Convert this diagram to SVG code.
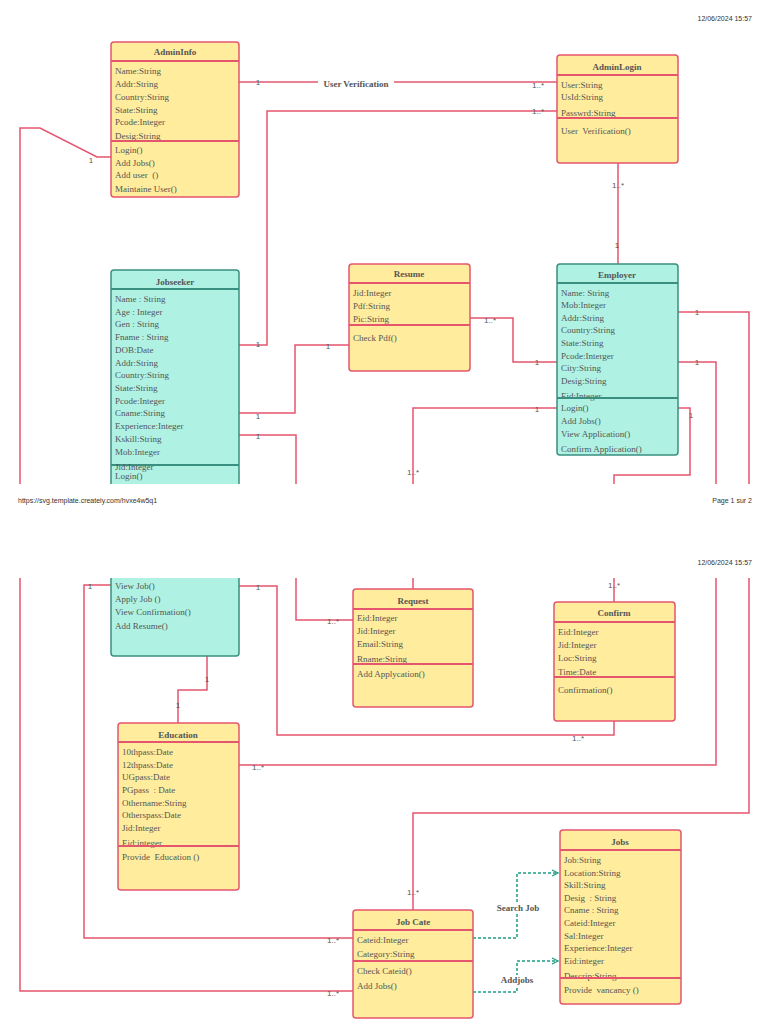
<svg xmlns="http://www.w3.org/2000/svg" width="768" height="1024" viewBox="0 0 768 1024">
<style>
.y{fill:#ffec9c;stroke:#e5566e;stroke-width:1.5}
.g{fill:#aff2e3;stroke:#3a8f80;stroke-width:1.5}
.ly{stroke:#e5566e;stroke-width:2;fill:none}
.lg{stroke:#3a8f80;stroke-width:2;fill:none}
.t{font-family:"Liberation Serif",serif;font-size:9px;fill:#555;white-space:pre}
.h{font-family:"Liberation Serif",serif;font-size:9px;font-weight:bold;fill:#555;text-anchor:middle}
.c{stroke:#e5566e;stroke-width:1.5;fill:none}
.d{stroke:#1b9e84;stroke-width:1.5;fill:none;stroke-dasharray:3,2}
.m{font-family:"Liberation Sans",sans-serif;font-size:8px;fill:#555;text-anchor:middle}
.lb{font-family:"Liberation Serif",serif;font-size:9px;font-weight:bold;fill:#555;text-anchor:middle}
.p{font-family:"Liberation Sans",sans-serif;font-size:7px;fill:#333}
</style>
<defs>
<marker id="ar" markerWidth="8" markerHeight="8" refX="7" refY="4" orient="auto" markerUnits="userSpaceOnUse">
<path d="M1,1 L7,4 L1,7" fill="none" stroke="#1b9e84" stroke-width="1.2"/>
</marker>
</defs>
<rect width="768" height="1024" fill="#fff"/>
<g id="page">
<text class="p" x="752" y="21" text-anchor="end">12/06/2024 15:57</text>
<text class="p" x="18" y="503">https://svg.template.creately.com/hvxe4w5q1</text>
<text class="p" x="752" y="503" text-anchor="end">Page 1 sur 2</text>
<text class="p" x="752" y="565" text-anchor="end">12/06/2024 15:57</text>
</g>
<g id="connectors">
<path class="c" d="M239,82 H557"/>
<rect x="318" y="77" width="76" height="12" fill="#fff"/>
<text class="lb" x="356" y="87">User Verification</text>
<text class="m" x="258" y="85">1</text>
<text class="m" x="538" y="88">1..*</text>
<path class="c" d="M239,345 H267 V111 H557"/>
<text class="m" x="258" y="347">1</text>
<text class="m" x="538" y="114">1..*</text>
<path class="c" d="M618,163 V264"/>
<text class="m" x="618" y="188">1..*</text>
<text class="m" x="617" y="248">1</text>
<path class="c" d="M111,157 H97 L40,128 H20 V484"/>
<text class="m" x="91" y="163">1</text>
<path class="c" d="M20,578 V991 H353"/>
<text class="m" x="333" y="996">1..*</text>
<path class="c" d="M111,585 H84 V938 H353"/>
<text class="m" x="90" y="589">1</text>
<text class="m" x="333" y="943">1..*</text>
<path class="c" d="M239,413 H295 V345 H349"/>
<text class="m" x="258" y="419">1</text>
<text class="m" x="328" y="349">1</text>
<path class="c" d="M470,318 H513 V362 H557"/>
<text class="m" x="490" y="323">1..*</text>
<text class="m" x="537" y="365">1</text>
<path class="c" d="M239,435 H296 V484"/>
<text class="m" x="258" y="439">1</text>
<path class="c" d="M296,578 V620 H353"/>
<text class="m" x="333" y="624">1..*</text>
<path class="c" d="M557,408 H413 V484"/>
<text class="m" x="537" y="412">1</text>
<text class="m" x="413" y="475">1..*</text>
<path class="c" d="M413,578 V589"/>
<path class="c" d="M678,312 H749 V484"/>
<text class="m" x="697" y="315">1</text>
<path class="c" d="M749,578 V813 H413 V910"/>
<text class="m" x="413" y="895">1..*</text>
<path class="c" d="M678,362 H716 V484"/>
<text class="m" x="697" y="365">1</text>
<path class="c" d="M716,578 V765 H239"/>
<text class="m" x="258" y="770">1..*</text>
<path class="c" d="M678,408 H690 V475 H614 V484"/>
<text class="m" x="691" y="418">1</text>
<path class="c" d="M614,578 V602"/>
<text class="m" x="614" y="588">1..*</text>
<path class="c" d="M239,586 H277 V735 H614 V721"/>
<text class="m" x="258" y="590">1</text>
<text class="m" x="578" y="741">1..*</text>
<path class="c" d="M207,656 V690 H178 V723"/>
<text class="m" x="207" y="682">1</text>
<text class="m" x="178" y="708">1</text>
<path class="d" d="M473,938 H517 V873 H558" marker-end="url(#ar)"/>
<rect x="494" y="903" width="46" height="11" fill="#fff"/>
<text class="lb" x="518" y="911">Search Job</text>
<path class="d" d="M473,992 H517 V961 H558" marker-end="url(#ar)"/>
<rect x="498" y="975" width="38" height="11" fill="#fff"/>
<text class="lb" x="517" y="983">Addjobs</text>
</g>
<g id="AdminInfo">
<rect class="y" x="111" y="42" width="128" height="155" rx="3"/>
<text class="h" x="175" y="55">AdminInfo</text>
<line class="ly" x1="111" y1="61" x2="239" y2="61"/>
<text class="t" x="115" y="74">Name:String</text>
<text class="t" x="115" y="87">Addr:String</text>
<text class="t" x="115" y="100">Country:String</text>
<text class="t" x="115" y="113">State:String</text>
<text class="t" x="115" y="125">Pcode:Integer</text>
<text class="t" x="115" y="139">Desig:String</text>
<line class="ly" x1="111" y1="141" x2="239" y2="141"/>
<text class="t" x="115" y="153">Login()</text>
<text class="t" x="115" y="166">Add Jobs()</text>
<text class="t" x="115" y="178">Add user  ()</text>
<text class="t" x="115" y="192">Maintaine User()</text>
</g>
<g id="AdminLogin">
<rect class="y" x="557" y="55" width="121" height="108" rx="3"/>
<text class="h" x="617" y="70">AdminLogin</text>
<line class="ly" x1="557" y1="75" x2="678" y2="75"/>
<text class="t" x="561" y="88">User:String</text>
<text class="t" x="561" y="100">UsId:String</text>
<text class="t" x="561" y="116">Passwrd:String</text>
<line class="ly" x1="557" y1="118" x2="678" y2="118"/>
<text class="t" x="561" y="134">User  Verification()</text>
</g>
<g id="Jobseeker">
<path class="g" d="M111,484 V273 Q111,270 114,270 H236 Q239,270 239,273 V484"/>
<text class="h" x="175" y="285">Jobseeker</text>
<line class="lg" x1="111" y1="289" x2="239" y2="289"/>
<text class="t" x="115" y="302">Name : String</text>
<text class="t" x="115" y="315">Age : Integer</text>
<text class="t" x="115" y="327">Gen : String</text>
<text class="t" x="115" y="340">Fname : String</text>
<text class="t" x="115" y="353">DOB:Date</text>
<text class="t" x="115" y="366">Addr:String</text>
<text class="t" x="115" y="378">Country:String</text>
<text class="t" x="115" y="391">State:String</text>
<text class="t" x="115" y="404">Pcode:Integer</text>
<text class="t" x="115" y="416">Cname:String</text>
<text class="t" x="115" y="429">Experience:Integer</text>
<text class="t" x="115" y="442">Kskill:String</text>
<text class="t" x="115" y="455">Mob:Integer</text>
<line class="lg" x1="111" y1="465" x2="239" y2="465"/>
<text class="t" x="115" y="470">Jid:Integer</text>
<text class="t" x="115" y="479">Login()</text>
<path class="g" d="M111,578 V653 Q111,656 114,656 H236 Q239,656 239,653 V578"/>
<text class="t" x="115" y="589">View Job()</text>
<text class="t" x="115" y="602">Apply Job ()</text>
<text class="t" x="115" y="615">View Confirmation()</text>
<text class="t" x="115" y="629">Add Resume()</text>
</g>
<g id="Resume">
<rect class="y" x="349" y="264" width="121" height="107" rx="3"/>
<text class="h" x="409" y="277">Resume</text>
<line class="ly" x1="349" y1="283" x2="470" y2="283"/>
<text class="t" x="353" y="296">Jid:Integer</text>
<text class="t" x="353" y="309">Pdf:String</text>
<text class="t" x="353" y="322">Pic:String</text>
<line class="ly" x1="349" y1="325" x2="470" y2="325"/>
<text class="t" x="353" y="341">Check Pdf()</text>
</g>
<g id="Employer">
<rect class="g" x="557" y="264" width="121" height="191" rx="3"/>
<text class="h" x="617" y="278">Employer</text>
<line class="lg" x1="557" y1="283" x2="678" y2="283"/>
<text class="t" x="561" y="296">Name: String</text>
<text class="t" x="561" y="308">Mob:Integer</text>
<text class="t" x="561" y="321">Addr:String</text>
<text class="t" x="561" y="333">Country:String</text>
<text class="t" x="561" y="346">State:String</text>
<text class="t" x="561" y="359">Pcode:Interger</text>
<text class="t" x="561" y="371">City:String</text>
<text class="t" x="561" y="384">Desig:String</text>
<text class="t" x="561" y="399">Eid:Integer</text>
<line class="lg" x1="557" y1="398" x2="678" y2="398"/>
<text class="t" x="561" y="411">Login()</text>
<text class="t" x="561" y="424">Add Jobs()</text>
<text class="t" x="561" y="437">View Application()</text>
<text class="t" x="561" y="452">Confirm Application()</text>
</g>
<g id="Request">
<rect class="y" x="353" y="589" width="120" height="118" rx="3"/>
<text class="h" x="413" y="604">Request</text>
<line class="ly" x1="353" y1="609" x2="473" y2="609"/>
<text class="t" x="357" y="621">Eid:Integer</text>
<text class="t" x="357" y="634">Jid:Integer</text>
<text class="t" x="357" y="647">Email:String</text>
<text class="t" x="357" y="662">Rname:String</text>
<line class="ly" x1="353" y1="664" x2="473" y2="664"/>
<text class="t" x="357" y="677">Add Applycation()</text>
</g>
<g id="Confirm">
<rect class="y" x="554" y="602" width="121" height="119" rx="3"/>
<text class="h" x="614" y="616">Confirm</text>
<line class="ly" x1="554" y1="622" x2="675" y2="622"/>
<text class="t" x="558" y="635">Eid:Integer</text>
<text class="t" x="558" y="648">Jid:Integer</text>
<text class="t" x="558" y="661">Loc:String</text>
<text class="t" x="558" y="675">Time:Date</text>
<line class="ly" x1="554" y1="677" x2="675" y2="677"/>
<text class="t" x="558" y="693">Confirmation()</text>
</g>
<g id="Education">
<rect class="y" x="118" y="723" width="121" height="167" rx="3"/>
<text class="h" x="178" y="738">Education</text>
<line class="ly" x1="118" y1="742" x2="239" y2="742"/>
<text class="t" x="122" y="755">10thpass:Date</text>
<text class="t" x="122" y="768">12thpass:Date</text>
<text class="t" x="122" y="780">UGpass:Date</text>
<text class="t" x="122" y="793">PGpass  : Date</text>
<text class="t" x="122" y="806">Othername:String</text>
<text class="t" x="122" y="818">Otherspass:Date</text>
<text class="t" x="122" y="831">Jid:Integer</text>
<text class="t" x="122" y="846">Eid:integer</text>
<line class="ly" x1="118" y1="846" x2="239" y2="846"/>
<text class="t" x="122" y="860">Provide  Education ()</text>
</g>
<g id="Jobs">
<rect class="y" x="560" y="830" width="121" height="174" rx="3"/>
<text class="h" x="620" y="845">Jobs</text>
<line class="ly" x1="560" y1="850" x2="681" y2="850"/>
<text class="t" x="564" y="863">Job:String</text>
<text class="t" x="564" y="876">Location:String</text>
<text class="t" x="564" y="888">Skill:String</text>
<text class="t" x="564" y="901">Desig  : String</text>
<text class="t" x="564" y="913">Cname : String</text>
<text class="t" x="564" y="926">Cateid:Integer</text>
<text class="t" x="564" y="939">Sal:Integer</text>
<text class="t" x="564" y="951">Experience:Integer</text>
<text class="t" x="564" y="964">Eid:integer</text>
<text class="t" x="564" y="979">Descrip:String</text>
<line class="ly" x1="560" y1="978" x2="681" y2="978"/>
<text class="t" x="564" y="993">Provide  vancancy ()</text>
</g>
<g id="JobCate">
<rect class="y" x="353" y="910" width="120" height="108" rx="3"/>
<text class="h" x="413" y="925">Job Cate</text>
<line class="ly" x1="353" y1="930" x2="473" y2="930"/>
<text class="t" x="357" y="943">Cateid:Integer</text>
<text class="t" x="357" y="957">Category:String</text>
<line class="ly" x1="353" y1="961" x2="473" y2="961"/>
<text class="t" x="357" y="974">Check Cateid()</text>
<text class="t" x="357" y="989">Add Jobs()</text>
</g>
</svg>
